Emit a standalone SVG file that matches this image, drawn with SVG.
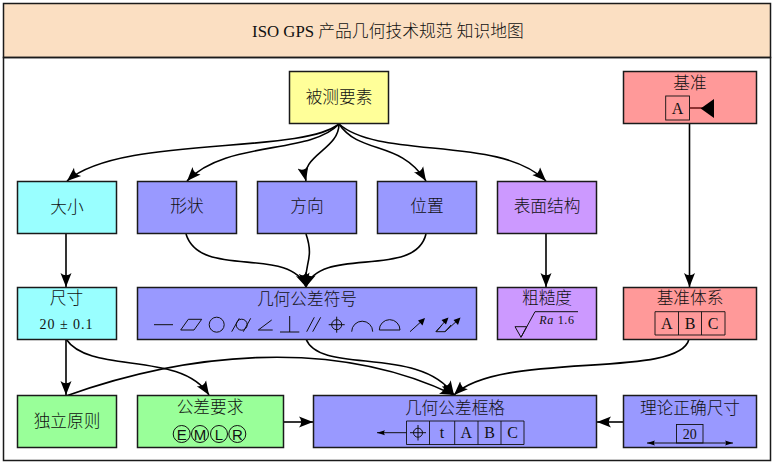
<svg xmlns="http://www.w3.org/2000/svg" width="773" height="462" viewBox="0 0 773 462">
<style>
text{font-family:"Liberation Serif","Noto Sans CJK SC",serif;fill:#111;text-anchor:middle}
.t{font-size:16.700px;font-weight:300}
.h{font-size:16.800px;font-weight:300}
.s{font-size:16px}
.n{stroke:#1a1a1a;stroke-width:1.5}
.c{fill:none;stroke:#000;stroke-width:1.6}
.o{fill:none;stroke:#111;stroke-width:1}
.b{fill:none;stroke:#111;stroke-width:.9}
.y{fill:#ffff99}.r{fill:#ff9999}.q{fill:#99ffff}.p{fill:#9999ff}.v{fill:#cc99ff}.g{fill:#99ff99}
.e{font-family:"Liberation Sans",sans-serif;font-size:15px}
</style>
<defs>
<marker id="a" markerUnits="userSpaceOnUse" markerWidth="17" markerHeight="14" refX="14" refY="7" orient="auto"><path d="M0,1.500 L14,7 L0,12.500 Q4.500,7 0,1.500Z" fill="#000"/></marker>
<marker id="m" markerUnits="userSpaceOnUse" markerWidth="10" markerHeight="8" refX="8" refY="4" orient="auto-start-reverse"><path d="M0,1.500 L8,4 L0,6.500 Q2,4 0,1.500Z" fill="#000"/></marker>
</defs>
<rect width="773" height="462" fill="#fff"/>
<g id="header"><rect x="3.500" y="3.500" width="767" height="54" fill="#fbdfc2" class="n"/><text x="388" y="37" class="h">ISO GPS 产品几何技术规范 知识地图</text></g>
<rect id="frame" x="3.500" y="57.500" width="767" height="403" fill="none" class="n"/>
<g id="connectors">
<path class="c" marker-end="url(#a)" d="M339,124C300,155 120,135 67,181"/>
<path class="c" marker-end="url(#a)" d="M339,124C310,155 225,140 187,181"/>
<path class="c" marker-end="url(#a)" d="M339,124C339,150 300,155 306,181"/>
<path class="c" marker-end="url(#a)" d="M339,124C360,155 400,140 426,181"/>
<path class="c" marker-end="url(#a)" d="M339,124C380,160 500,135 546,181"/>
<path class="c" marker-end="url(#a)" d="M66,234V287"/>
<path class="c" marker-end="url(#a)" d="M546,234V287"/>
<path class="c" marker-end="url(#a)" d="M689.500,123V287"/>
<path class="c" marker-end="url(#a)" d="M186,234C200,280 290,245 306,287"/>
<path class="c" marker-end="url(#a)" d="M306,234C315,260 303,265 306,287"/>
<path class="c" marker-end="url(#a)" d="M426,234C415,280 320,245 306,287"/>
<path class="c" marker-end="url(#a)" d="M306,339C320,375 420,345 454,395"/>
<path class="c" marker-end="url(#a)" d="M689,339C680,380 500,350 454,395"/>
<path class="c" marker-end="url(#a)" d="M66,339V395"/>
<path class="c" marker-end="url(#a)" d="M66,339C90,375 180,350 209,395"/>
<path class="c" marker-end="url(#a)" d="M66,396C180,355 330,335 454,395"/>
<path class="c" marker-end="url(#a)" d="M283,422H313"/>
<path class="c" marker-end="url(#a)" d="M623,422H597"/>
</g>
<g id="n-measured"><rect x="289.500" y="71.500" width="99" height="52" class="n y"/><text x="339" y="103" class="t">被测要素</text></g>
<g id="n-datum"><rect x="623.500" y="71.500" width="133" height="52" class="n r"/><text x="690" y="89" class="t">基准</text>
<rect x="665.700" y="96" width="23.800" height="24" class="b"/><text x="677.600" y="113.500" class="s">A</text>
<path d="M689.500,108H703" stroke="#611" stroke-width="1.500"/><path d="M700.700,108.500L714,99V118Z" fill="#000"/></g>
<g id="n-size"><rect x="17.500" y="181.500" width="99" height="52" class="n q"/><text x="67" y="213" class="t">大小</text></g>
<g id="n-form"><rect x="137.500" y="181.500" width="99" height="52" class="n p"/><text x="187" y="212" class="t">形状</text></g>
<g id="n-orientation"><rect x="257.500" y="181.500" width="99" height="52" class="n p"/><text x="307" y="212" class="t">方向</text></g>
<g id="n-location"><rect x="377.500" y="181.500" width="99" height="52" class="n p"/><text x="427" y="212" class="t">位置</text></g>
<g id="n-surface"><rect x="497.500" y="181.500" width="99" height="52" class="n v"/><text x="547" y="212" class="t">表面结构</text></g>
<g id="n-dimension"><rect x="17.500" y="287.500" width="99" height="52" class="n q"/><text x="66.500" y="304" class="t">尺寸</text><text x="66.500" y="329" font-size="14" letter-spacing="1">20 ± 0.1</text></g>
<g id="n-symbols"><rect x="137.500" y="287.500" width="339" height="52" class="n p"/><text x="307" y="305" class="t">几何公差符号</text>
<path class="o" d="M154,324.700H173M180.700,330L188.300,319.300H201.700L194,330ZM231.700,331.700L239.300,318.300M243.300,331.700L250.700,318.300M271.700,320L258.300,330H272.700M280,332H299.300M289.700,316V332M306.700,331.700L314.300,317.300M312.700,331.700L320.700,317.300M336.700,316.700V332.700M328.700,324.700H344.700M351.700,331.700A10.500,10.500 0 0 1 372.700,331.700M379.300,330A10.350,10.350 0 0 1 400,330ZM436,331.700H445M436,331.700L442,325M445,331.700L451,325"/>
<circle class="o" cx="216.700" cy="324.700" r="7.500"/><circle class="o" cx="241.700" cy="324.700" r="5.500"/><circle class="o" cx="336.700" cy="324.700" r="5"/>
<path d="M410,331.700L424,319" class="o"/><path d="M425,318L422.500,325.500L418,320.500Z" fill="#000"/>
<path d="M436,331.700L447,319M445,331.700L459,319" class="o"/><path d="M448.500,317.500L446,324.500L441.500,320ZM460.500,317.500L458,325L453.500,320Z" fill="#000"/></g>
<g id="n-roughness"><rect x="497.500" y="287.500" width="99" height="52" class="n v"/><text x="547" y="304" class="t">粗糙度</text>
<path class="o" d="M515,326.700H526.700L521,337.300L515,326.700M521,337.300L535,311.700H578"/><text x="557" y="324" font-size="12" letter-spacing=".7"><tspan font-style="italic">Ra</tspan> 1.6</text></g>
<g id="n-dsystem"><rect x="623.500" y="287.500" width="133" height="52" class="n r"/><text x="690" y="304" class="t">基准体系</text>
<path class="b" d="M655,311.700H725V335H655ZM678.500,311.700V335M701.500,311.700V335"/><text x="666.700" y="329" class="s">A</text><text x="690" y="329" class="s">B</text><text x="713" y="329" class="s">C</text></g>
<g id="n-independent"><rect x="17.500" y="395.500" width="99" height="52" class="n g"/><text x="67" y="427" class="t">独立原则</text></g>
<g id="n-requirement"><rect x="137.500" y="395.500" width="146" height="52" class="n g"/><text x="210" y="413" class="t">公差要求</text>
<g class="o"><circle cx="181.700" cy="434" r="8.500"/><circle cx="200" cy="434" r="8.500"/><circle cx="219" cy="434" r="8.500"/><circle cx="237.300" cy="434" r="8.500"/></g>
<text x="181.700" y="439.500" class="e">E</text><text x="200" y="439.500" class="e">M</text><text x="219" y="439.500" class="e">L</text><text x="237.300" y="439.500" class="e">R</text></g>
<g id="n-frame"><rect x="313.500" y="395.500" width="283" height="52" class="n p"/><text x="455" y="414" class="t">几何公差框格</text>
<path class="b" d="M406.500,421H524V444.500H406.500ZM429.500,421V444.500M454.700,421V444.500M478,421V444.500M501,421V444.500"/>
<circle class="o" cx="418" cy="432.700" r="4.500"/><path class="o" d="M418,425V440.500M410,432.700H426"/>
<path class="o" marker-end="url(#m)" d="M406.500,432.700H377"/>
<text x="442" y="438" class="s">t</text><text x="466.300" y="438" class="s">A</text><text x="489.500" y="438" class="s">B</text><text x="512.500" y="438" class="s">C</text></g>
<g id="n-theoretical"><rect x="623.500" y="395.500" width="133" height="52" class="n p"/><text x="690" y="414" class="t">理论正确尺寸</text>
<rect x="676.500" y="424.500" width="26.500" height="18.500" class="b"/><text x="689.700" y="439" font-size="14">20</text>
<path class="o" marker-start="url(#m)" marker-end="url(#m)" d="M647,443H733"/></g>
</svg>
